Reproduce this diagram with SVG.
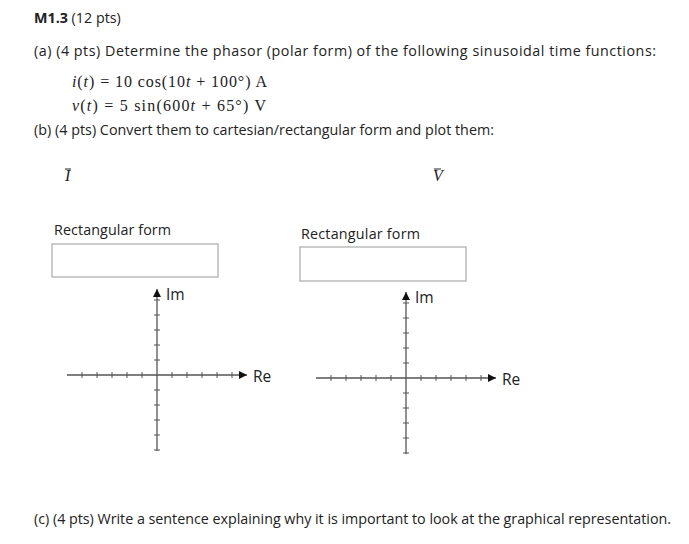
<svg xmlns="http://www.w3.org/2000/svg" width="689" height="544" viewBox="0 0 689 544">
<style>
text{font-family:"Open Sans","Liberation Sans",sans-serif;font-size:14.3px;fill:#222}
.m{font-family:"Liberation Serif",serif;font-size:16px}
.l{font-size:15.5px}
.ax{stroke:#555;stroke-width:1.3;fill:none}
.tk{stroke:#555;stroke-width:1}
.box{fill:#fff;stroke:#aaa;stroke-width:1.2}
</style>
<defs><marker id="a" viewBox="0 0 10 10" refX="10" refY="5" markerWidth="8" markerHeight="8" markerUnits="userSpaceOnUse" orient="auto"><path d="M0,0L10,5L0,10z" fill="#111"/></marker></defs>
<rect width="689" height="544" fill="#fff"/>
<text x="34" y="23"><tspan font-weight="bold">M1.3</tspan> (12 pts)</text>
<text x="34" y="56" textLength="622">(a) (4 pts) Determine the phasor (polar form) of the following sinusoidal time functions:</text>
<text class="m" x="72" y="87" textLength="195"><tspan font-style="italic">i</tspan>(<tspan font-style="italic">t</tspan>) = 10 cos(10<tspan font-style="italic">t</tspan> + 100°)  A</text>
<text class="m" x="72" y="111" textLength="194"><tspan font-style="italic">v</tspan>(<tspan font-style="italic">t</tspan>) = 5 sin(600<tspan font-style="italic">t</tspan> + 65°)  V</text>
<text x="34" y="135" textLength="460">(b) (4 pts) Convert them to cartesian/rectangular form and plot them:</text>
<text class="m" x="65" y="181" font-style="italic">I</text><line x1="65" y1="169" x2="71" y2="169" stroke="#222"/>
<text class="m" x="433" y="181" font-style="italic">V</text><line x1="434" y1="169" x2="441" y2="169" stroke="#222"/>
<text x="54" y="235" textLength="117">Rectangular form</text>
<text x="301" y="239" textLength="119">Rectangular form</text>
<g id="box1"><rect class="box" x="52" y="244" width="166" height="33"/></g>
<g id="box2"><rect class="box" x="300" y="247" width="166" height="34"/></g>
<g id="axes">
<g id="plot1">
<line class="ax" x1="67" y1="375" x2="247" y2="375" marker-end="url(#a)"/>
<line class="ax" x1="157" y1="451" x2="157" y2="289" marker-end="url(#a)"/>
<path class="tk" d="M82,372v6M97,372v6M112,372v6M127,372v6M142,372v6M172,372v6M187,372v6M202,372v6M217,372v6M232,372v6M154,360h6M154,345h6M154,330h6M154,315h6M154,300h6M154,390h6M154,405h6M154,420h6M154,435h6M154,450h6"/>
<text class="l" x="166" y="300">Im</text><text class="l" x="253" y="382">Re</text>
</g>
<g id="plot2">
<line class="ax" x1="316" y1="378" x2="496" y2="378" marker-end="url(#a)"/>
<line class="ax" x1="406" y1="454" x2="406" y2="292" marker-end="url(#a)"/>
<path class="tk" d="M331,375v6M346,375v6M361,375v6M376,375v6M391,375v6M421,375v6M436,375v6M451,375v6M466,375v6M481,375v6M403,363h6M403,348h6M403,333h6M403,318h6M403,303h6M403,393h6M403,408h6M403,423h6M403,438h6M403,453h6"/>
<text class="l" x="415" y="303">Im</text><text class="l" x="502" y="385">Re</text>
</g>
</g>
<text x="34" y="524" textLength="637">(c) (4 pts) Write a sentence explaining why it is important to look at the graphical representation.</text>
</svg>
